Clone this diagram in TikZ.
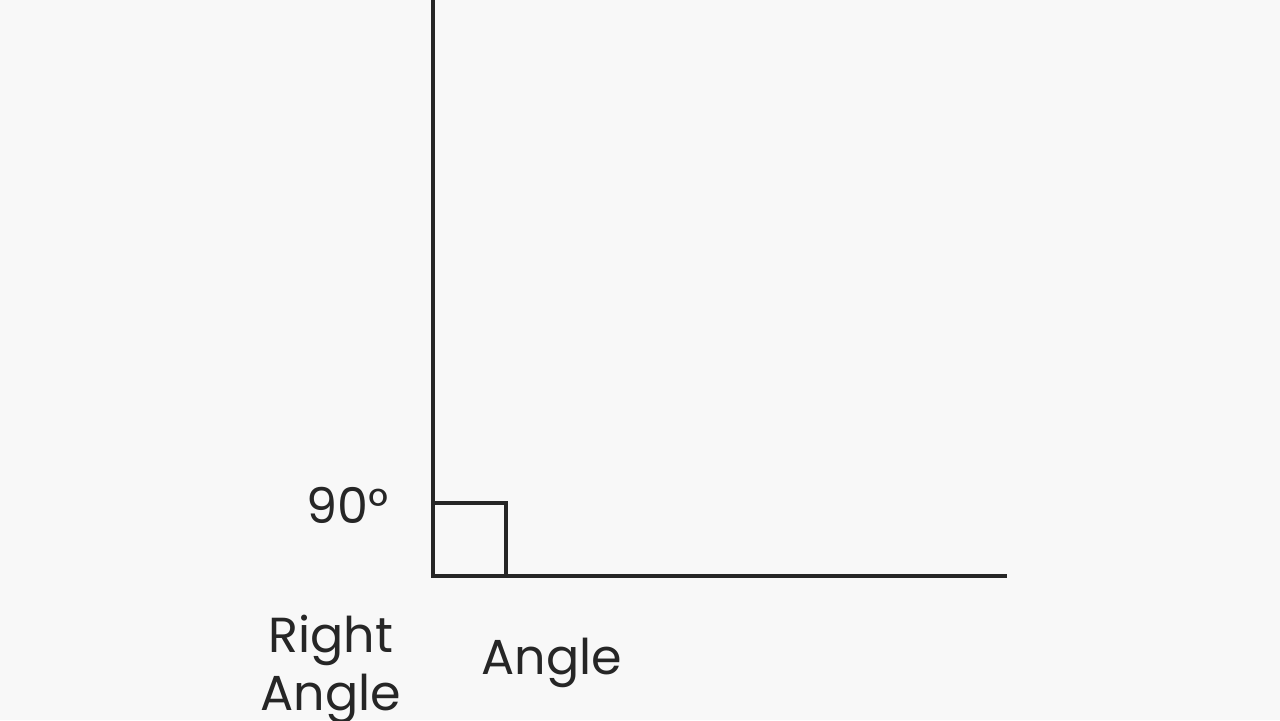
\documentclass[tikz,border=0pt]{standalone}
\usepackage{fontspec}
\setmainfont{Poppins}
\usepackage{tikz}
\usetikzlibrary{positioning}

\definecolor{paper}{HTML}{F8F8F8}
\definecolor{ink}{HTML}{262626}

\tikzset{
	ray/.style={draw=ink, line width=2pt},
	label text/.style={text=ink, font=\fontsize{28}{32.5}\selectfont, inner sep=0pt}
}

\begin{document}
\begin{tikzpicture}[x=0.02cm, y=-0.02cm]
						% Background and frame
						\fill[paper] (0,0) rectangle (1280,720);
						\useasboundingbox (0,0) rectangle (1280,720);

						% The two arms of the angle
						\coordinate (vertex) at (433,576);
						\coordinate (top) at (433,0);
						\coordinate (end) at (1007,576);
						\draw[ray] (top) -- (vertex) -- (end);

						% Right angle mark
						\draw[ray] (433,503) -| (506,576);

						% Labels
						\node[label text,
							  anchor=base] (deg) at (348,523) {90°};
						\node[label text,
							  align=center,
							  anchor=base] (name) at (331,710) {Right\\Angle};
						\node[label text,
							  anchor=base] (word) at (552,674) {Angle};
					\end{tikzpicture}
\end{document}
